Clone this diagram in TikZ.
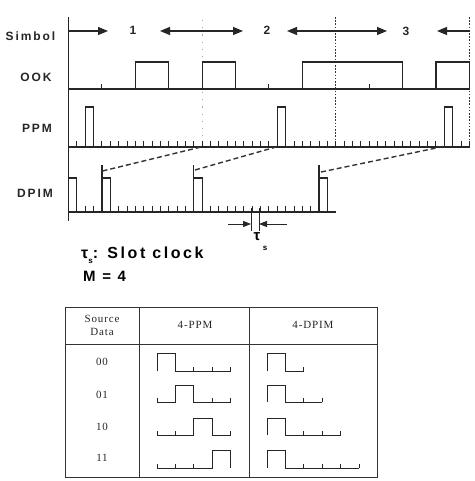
\documentclass[tikz,border=0pt]{standalone}
\usepackage{fontspec}
\setmainfont{Liberation Serif}
\setsansfont{Liberation Sans}
\newfontfamily\lblfont{Liberation Sans}[LetterSpace=16]
\newfontfamily\tabfont{Liberation Serif}[LetterSpace=8]
\usetikzlibrary{arrows.meta}
\begin{document}
\begin{tikzpicture}[x=1pt,y=-1pt,line join=miter,
  wave/.style={line width=1.2pt,draw=black!85},
  tk/.style={line width=0.9pt,draw=black!85},
  lbl/.style={font=\lblfont\bfseries\fontsize{12}{14}\selectfont,text=black!85,inner sep=0pt},
  dotv/.style={line width=1.1pt,draw=black!80,dash pattern=on 1.6pt off 1.6pt},
  dotf/.style={line width=0.9pt,draw=black!35,dash pattern=on 1.2pt off 6pt},
  conn/.style={line width=1.4pt,draw=black!80,dash pattern=on 5pt off 3pt},
  arr/.style={line width=1.2pt,draw=black!85,-{Triangle[length=10pt,width=8pt]}},
  darr/.style={line width=1.2pt,draw=black!85,{Triangle[length=10pt,width=8pt]}-{Triangle[length=10pt,width=8pt]}},
  sarr/.style={line width=1pt,draw=black!85,-{Triangle[length=8pt,width=6pt]}},
  tline/.style={line width=0.9pt,draw=black!80},
  tw/.style={line width=0.9pt,draw=black!85},
  ttxt/.style={font=\tabfont\fontsize{11}{13}\selectfont,text=black!85,inner sep=0pt,align=center}]
\useasboundingbox (0,0) rectangle (474,481);
\fill[white] (0,0) rectangle (474,481);

% ---------------- labels ----------------
\node[lbl] (lsim) at (30.5,36) {Simbol};
\node[lbl] (look) at (36,77) {OOK};
\node[lbl] (lppm) at (37,128) {PPM};
\node[lbl] (ldpim) at (35,193) {DPIM};

% axis
\draw[wave] (68.5,17) -- (68.5,221);

% dotted symbol boundaries
\draw[dotf] (202.1,20) -- (202.1,145);
\draw[dotv] (335.7,17) -- (335.7,146);
\draw[dotv] (469.3,17) -- (469.3,146);

% symbol arrows
\coordinate (a0) at (68.5,31);
\coordinate (a1) at (108,31);
\coordinate (b0) at (160,31);
\coordinate (b1) at (243,31);
\coordinate (c0) at (287,31);
\coordinate (c1) at (387,31);
\coordinate (e0) at (470,31);
\coordinate (e1) at (437,31);
\draw[arr] (a0) -- (a1);
\draw[darr] (b0) -- (b1);
\draw[darr] (c0) -- (c1);
\draw[arr] (e0) -- (e1);
\node[lbl] (n1) at (133,30) {1};
\node[lbl] (n2) at (267,30) {2};
\node[lbl] (n3) at (406,31) {3};

% ---------------- OOK ----------------
\draw[wave] (68.5,89) -- (470,89);
\foreach \a/\b in {8/12,16/20,28/40,44/48}
  \draw[wave] ({68.5+\a*8.35},89) -- ({68.5+\a*8.35},62) -- ({68.5+\b*8.35},62) -- ({68.5+\b*8.35},89);
\foreach \i in {4,24,36} \draw[tk] ({68.5+\i*8.35},89) -- ({68.5+\i*8.35},84);

% ---------------- PPM ----------------
\draw[wave] (68.5,147) -- (470,147);
\foreach \k in {2,25,45}
  \draw[wave] ({68.5+\k*8.35},147) -- ({68.5+\k*8.35},107) -- ({68.5+(\k+1)*8.35},107) -- ({68.5+(\k+1)*8.35},147);
\foreach \i in {1,4,5,...,24,27,28,...,44,47,48} \draw[tk] ({68.5+\i*8.35},147) -- ({68.5+\i*8.35},141);

% ---------------- DPIM ----------------
\draw[wave] (68.5,212) -- ({68.5+32*8.35},212);
\draw[wave] (68.5,178) -- ({68.5+8.35},178) -- ({68.5+8.35},212);
\foreach \k in {4,15,30}
  \draw[wave] ({68.5+\k*8.35},212) -- ({68.5+\k*8.35},165) ({68.5+\k*8.35},178) -- ({68.5+(\k+1)*8.35},178) -- ({68.5+(\k+1)*8.35},212);
\foreach \i in {2,3,6,7,...,14,17,18,...,29} \draw[tk] ({68.5+\i*8.35},212) -- ({68.5+\i*8.35},206);

% dashed connectors PPM -> DPIM
\coordinate (d2) at (102.5,171);
\coordinate (p1) at (201,147);
\coordinate (d3) at (195,170);
\coordinate (p2) at (276,147);
\coordinate (d4) at (321,172);
\coordinate (p3) at (441,147);
\draw[conn] (d2) -- (p1);
\draw[conn] (d3) -- (p2);
\draw[conn] (d4) -- (p3);

% slot clock marker
\draw[tk] (251,208) -- (251,231);
\draw[tk] (259,208) -- (259,231);
\coordinate (t0) at (228,224);
\coordinate (t1) at (251,224);
\coordinate (t2) at (287,224);
\coordinate (t3) at (259,224);
\draw[sarr] (t0) -- (t1);
\draw[sarr] (t2) -- (t3);
\node[font=\sffamily\bfseries\fontsize{15}{17}\selectfont,inner sep=0pt] (tau) at (257,237) {τ};
\node[font=\sffamily\bfseries\fontsize{8}{9}\selectfont,inner sep=0pt] (taus) at (265,248) {s};

\node[font=\lblfont\bfseries\fontsize{16}{18}\selectfont,anchor=base west,inner sep=0pt] (slot) at (81,258)
  {τ\raisebox{-5pt}{\fontsize{8}{9}\selectfont s}: Slot clock};
\node[font=\lblfont\bfseries\fontsize{15}{17}\selectfont,anchor=base west,inner sep=0pt] (mm) at (83,281) {M = 4};

% ---------------- table ----------------
\draw[tline] (65,307) rectangle (377,477);
\draw[tline] (65,344) -- (377,344);
\draw[tline] (139,307) -- (139,477);
\draw[tline] (249,307) -- (249,477);
\node[ttxt] (hsrc) at (102,325) {Source\\[0pt]Data};
\node[ttxt] (hppm) at (195,325) {4-PPM};
\node[ttxt] (hdpim) at (313,325) {4-DPIM};
\node[ttxt] (r1) at (102,362) {00};
\node[ttxt] (r2) at (102,395) {01};
\node[ttxt] (r3) at (102,427) {10};
\node[ttxt] (r4) at (102,458) {11};

% 4-PPM waveforms
\draw[tw] (157,371) -- (157,353) -- (175.4,353) -- (175.4,371) -- (230.6,371);
\foreach \x in {193.8,212.2,230.6} \draw[tw] (\x,371) -- (\x,366.5);
\draw[tw] (157,402) -- (175.4,402) -- (175.4,385) -- (193.8,385) -- (193.8,402) -- (230.6,402);
\foreach \x in {157,212.2,230.6} \draw[tw] (\x,402) -- (\x,397.5);
\draw[tw] (157,435) -- (193.8,435) -- (193.8,418) -- (212.2,418) -- (212.2,435) -- (230.6,435);
\foreach \x in {157,175.4,230.6} \draw[tw] (\x,435) -- (\x,430.5);
\draw[tw] (157,468) -- (212.2,468) -- (212.2,450) -- (230.6,450) -- (230.6,468);
\foreach \x in {157,175.4,193.8} \draw[tw] (\x,468) -- (\x,463.5);

% 4-DPIM waveforms
\draw[tw] (267,371) -- (267,353) -- (285.4,353) -- (285.4,371) -- (303.8,371);
\foreach \x in {303.8} \draw[tw] (\x,371) -- (\x,366.5);
\draw[tw] (267,402) -- (267,385) -- (285.4,385) -- (285.4,402) -- (322.2,402);
\foreach \x in {303.8,322.2} \draw[tw] (\x,402) -- (\x,397.5);
\draw[tw] (267,435) -- (267,418) -- (285.4,418) -- (285.4,435) -- (340.6,435);
\foreach \x in {303.8,322.2,340.6} \draw[tw] (\x,435) -- (\x,430.5);
\draw[tw] (267,468) -- (267,450) -- (285.4,450) -- (285.4,468) -- (359,468);
\foreach \x in {303.8,322.2,340.6,359} \draw[tw] (\x,468) -- (\x,463.5);
\end{tikzpicture}
\end{document}
